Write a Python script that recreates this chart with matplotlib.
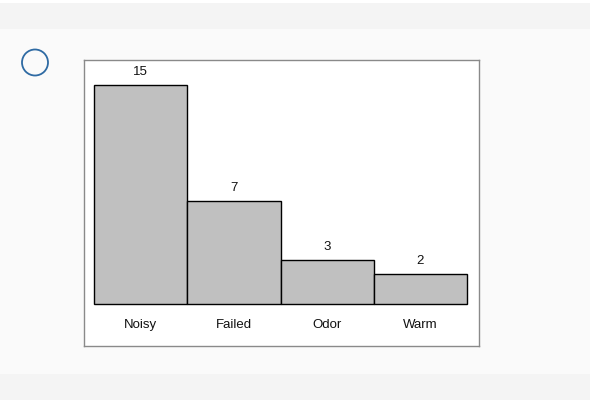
import matplotlib.pyplot as plt
from matplotlib.patches import Rectangle, Circle

categories = ["Noisy", "Failed", "Odor", "Warm"]
counts = [15, 7, 3, 2]

W, H = 590, 410
fig = plt.figure(figsize=(W / 100, H / 100), dpi=100)
fig.patch.set_facecolor("#fafafa")

# page background bands
bg = fig.add_axes([0, 0, 1, 1])
bg.set_xlim(0, W)
bg.set_ylim(H, 0)
bg.axis("off")
bg.add_patch(Rectangle((0, 0), W, 4, color="#ffffff", lw=0))
bg.add_patch(Rectangle((0, 4), W, 26, color="#f4f4f4", lw=0))
bg.add_patch(Rectangle((0, 375), W, 26, color="#f4f4f4", lw=0))
bg.add_patch(Rectangle((0, 401), W, 9, color="#ffffff", lw=0))
bg.add_patch(Circle((35, 63.5), 13, fill=False, ec="#2e6aa3", lw=1.3))

# chart box
x0, y0, x1, y1 = 84, 60.5, 479, 346.5
ax = fig.add_axes([x0 / W, 1 - y1 / H, (x1 - x0) / W, (y1 - y0) / H])
ax.set_facecolor("white")
for s in ax.spines.values():
    s.set_color("#8a8a8a")
    s.set_linewidth(1)
ax.set_xticks([])
ax.set_yticks([])

pxu = 93.25
ax.set_xlim(-0.5 - 10 / pxu, 3.5 + 12 / pxu)
pyu = 14.6
ax.set_ylim(-(346.5 - 304.5) / pyu, (304.5 - 60.5) / pyu)

x = range(len(categories))
ax.bar(x, counts, width=1.0, color="#c0c0c0", edgecolor="black", linewidth=1)
for i, (c, v) in enumerate(zip(categories, counts)):
    ax.text(i, v + 0.95, str(v), ha="center", va="center",
            fontsize=9.5, family="Liberation Sans", color="#111111")
    ax.text(i, -1.37, c, ha="center", va="center",
            fontsize=9.5, family="Liberation Sans", color="#111111")

fig.savefig("out.png", dpi=100, facecolor=fig.get_facecolor())
